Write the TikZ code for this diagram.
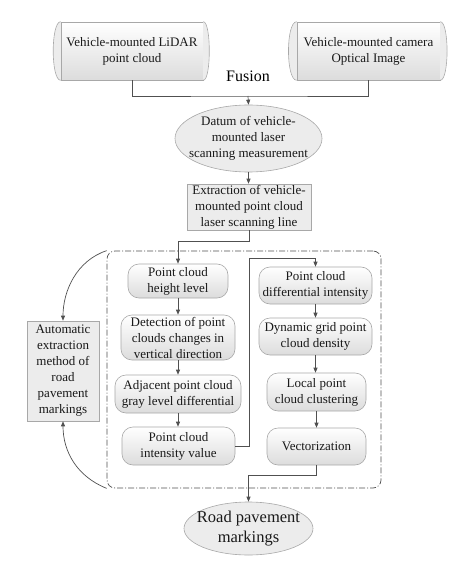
\documentclass[tikz,border=0pt]{standalone}
\usepackage{fontspec}
\setmainfont{Liberation Serif}
\usetikzlibrary{shapes.geometric,arrows.meta,calc}
\definecolor{edge}{HTML}{A8A8A8}
\definecolor{wire}{HTML}{505050}
\definecolor{boxfill}{HTML}{ECECEC}
\definecolor{shadebot}{HTML}{DCDCDC}
\begin{document}
\begin{tikzpicture}[x=1pt,y=-1pt,
 txt/.style={font=\fontsize{13}{16}\selectfont, align=center, text=black!90},
 roundbox/.style={txt, draw=edge, line width=0.6pt, rounded corners=11pt, top color=white, bottom color=shadebot, inner sep=0pt},
 flatbox/.style={txt, draw=edge, line width=0.6pt, fill=boxfill, inner sep=0pt},
 datbox/.style={flatbox, top color=white, bottom color=shadebot},
 bulge/.style={draw=edge, line width=0.6pt, fill=boxfill},
 oval/.style={txt, ellipse, draw=edge, line width=0.6pt, fill=boxfill, inner ysep=0pt},
 conn/.style={draw=wire, line width=0.7pt},
 arr/.style={conn, -{Triangle[length=5pt,width=4pt]}},
 dashbox/.style={draw=wire, line width=0.7pt, rounded corners=8pt, dash pattern=on 6pt off 2pt on 1pt off 2pt}
]
\useasboundingbox (0,0) rectangle (474,569);

% top data boxes
\node[datbox, minimum width=142pt, minimum height=58pt] (lidar) at (132,51) {Vehicle-mounted LiDAR\\point cloud};
\node[datbox, minimum width=143pt, minimum height=58pt] (camera) at (368.5,51) {Vehicle-mounted camera\\Optical Image};
\draw[bulge] (lidar.north west) .. controls +(-10,0) and +(-10,0) .. (lidar.south west);
\draw[bulge] (lidar.north east) .. controls +(8,0) and +(8,0) .. (lidar.south east);
\draw[bulge] (camera.north west) .. controls +(-11,0) and +(-11,0) .. (camera.south west);
\draw[bulge] (camera.north east) .. controls +(9,0) and +(9,0) .. (camera.south east);

\node[font=\fontsize{16}{19}\selectfont] (fusion) at (248,76) {Fusion};
\coordinate (fj) at (248,96);

\node[oval, minimum width=147pt, minimum height=67pt, inner xsep=-8pt] (datum) at (248.5,138.5) {Datum of vehicle-\\mounted laser\\scanning measurement};

\node[flatbox, minimum width=124pt, minimum height=46pt] (extr) at (249,207) {Extraction of vehicle-\\mounted point cloud\\laser scanning line};

% dashed frame
\node[dashbox, minimum width=274pt, minimum height=237pt] (frame) at (244,369.5) {};

% left column
\node[roundbox, minimum width=100pt, minimum height=34pt] (height) at (178,281) {Point cloud\\height level};
\node[roundbox, minimum width=114pt, minimum height=45pt] (detect) at (178,337.5) {Detection of point\\clouds changes in\\vertical direction};
\node[roundbox, minimum width=126pt, minimum height=38pt] (gray) at (178,394) {Adjacent point cloud\\gray level differential};
\node[roundbox, minimum width=113pt, minimum height=38pt] (intens) at (178.5,446) {Point cloud\\intensity value};

% right column
\node[roundbox, minimum width=113pt, minimum height=37pt] (diff) at (315.5,285.5) {Point cloud\\differential intensity};
\node[roundbox, minimum width=113pt, minimum height=37pt] (grid) at (315.5,336.5) {Dynamic grid point\\cloud density};
\node[roundbox, minimum width=99pt, minimum height=38pt] (clus) at (316.5,392) {Local point\\cloud clustering};
\node[roundbox, minimum width=99pt, minimum height=37pt] (vect) at (316.5,446.5) {Vectorization};

% side box
\node[flatbox, minimum width=72pt, minimum height=100pt] (auto) at (63,371) {Automatic\\extraction\\method of\\road\\pavement\\markings};

% result
\node[oval, font=\fontsize{16.5}{20}\selectfont, minimum width=129pt, minimum height=53pt, inner xsep=-7pt] (road) at (248.5,528.5) {Road pavement\\markings};

% connectors
\draw[conn] (lidar.south) |- (fj) -| (camera.south);
\draw[arr] (fj) -- (datum.north);
\draw[arr] (datum.south) -- (extr.north -| datum.south);
\draw[arr] (extr.south) -- ++(0,11) -| (height.north);
\draw[arr] (height.south) -- (detect.north);
\draw[arr] (detect.south) -- (gray.north);
\draw[arr] (gray.south) -- (intens.north -| gray.south);
\coordinate (bend) at (249,258);
\draw[arr] (intens.east) -| (bend) -| (diff.north);
\draw[arr] (diff.south) -- (grid.north);
\draw[arr] (grid.south) -- (clus.north -| grid.south);
\draw[arr] (clus.south) -- (vect.north);
\draw[arr] (vect.south) -- ++(0,10) -| (road.north);
\draw[arr] (frame.north west) .. controls +(-30,10) and +(0,-30) .. (auto.north);
\draw[arr] (frame.south west) .. controls +(-30,-12) and +(0,30) .. (auto.south);
\end{tikzpicture}
\end{document}
